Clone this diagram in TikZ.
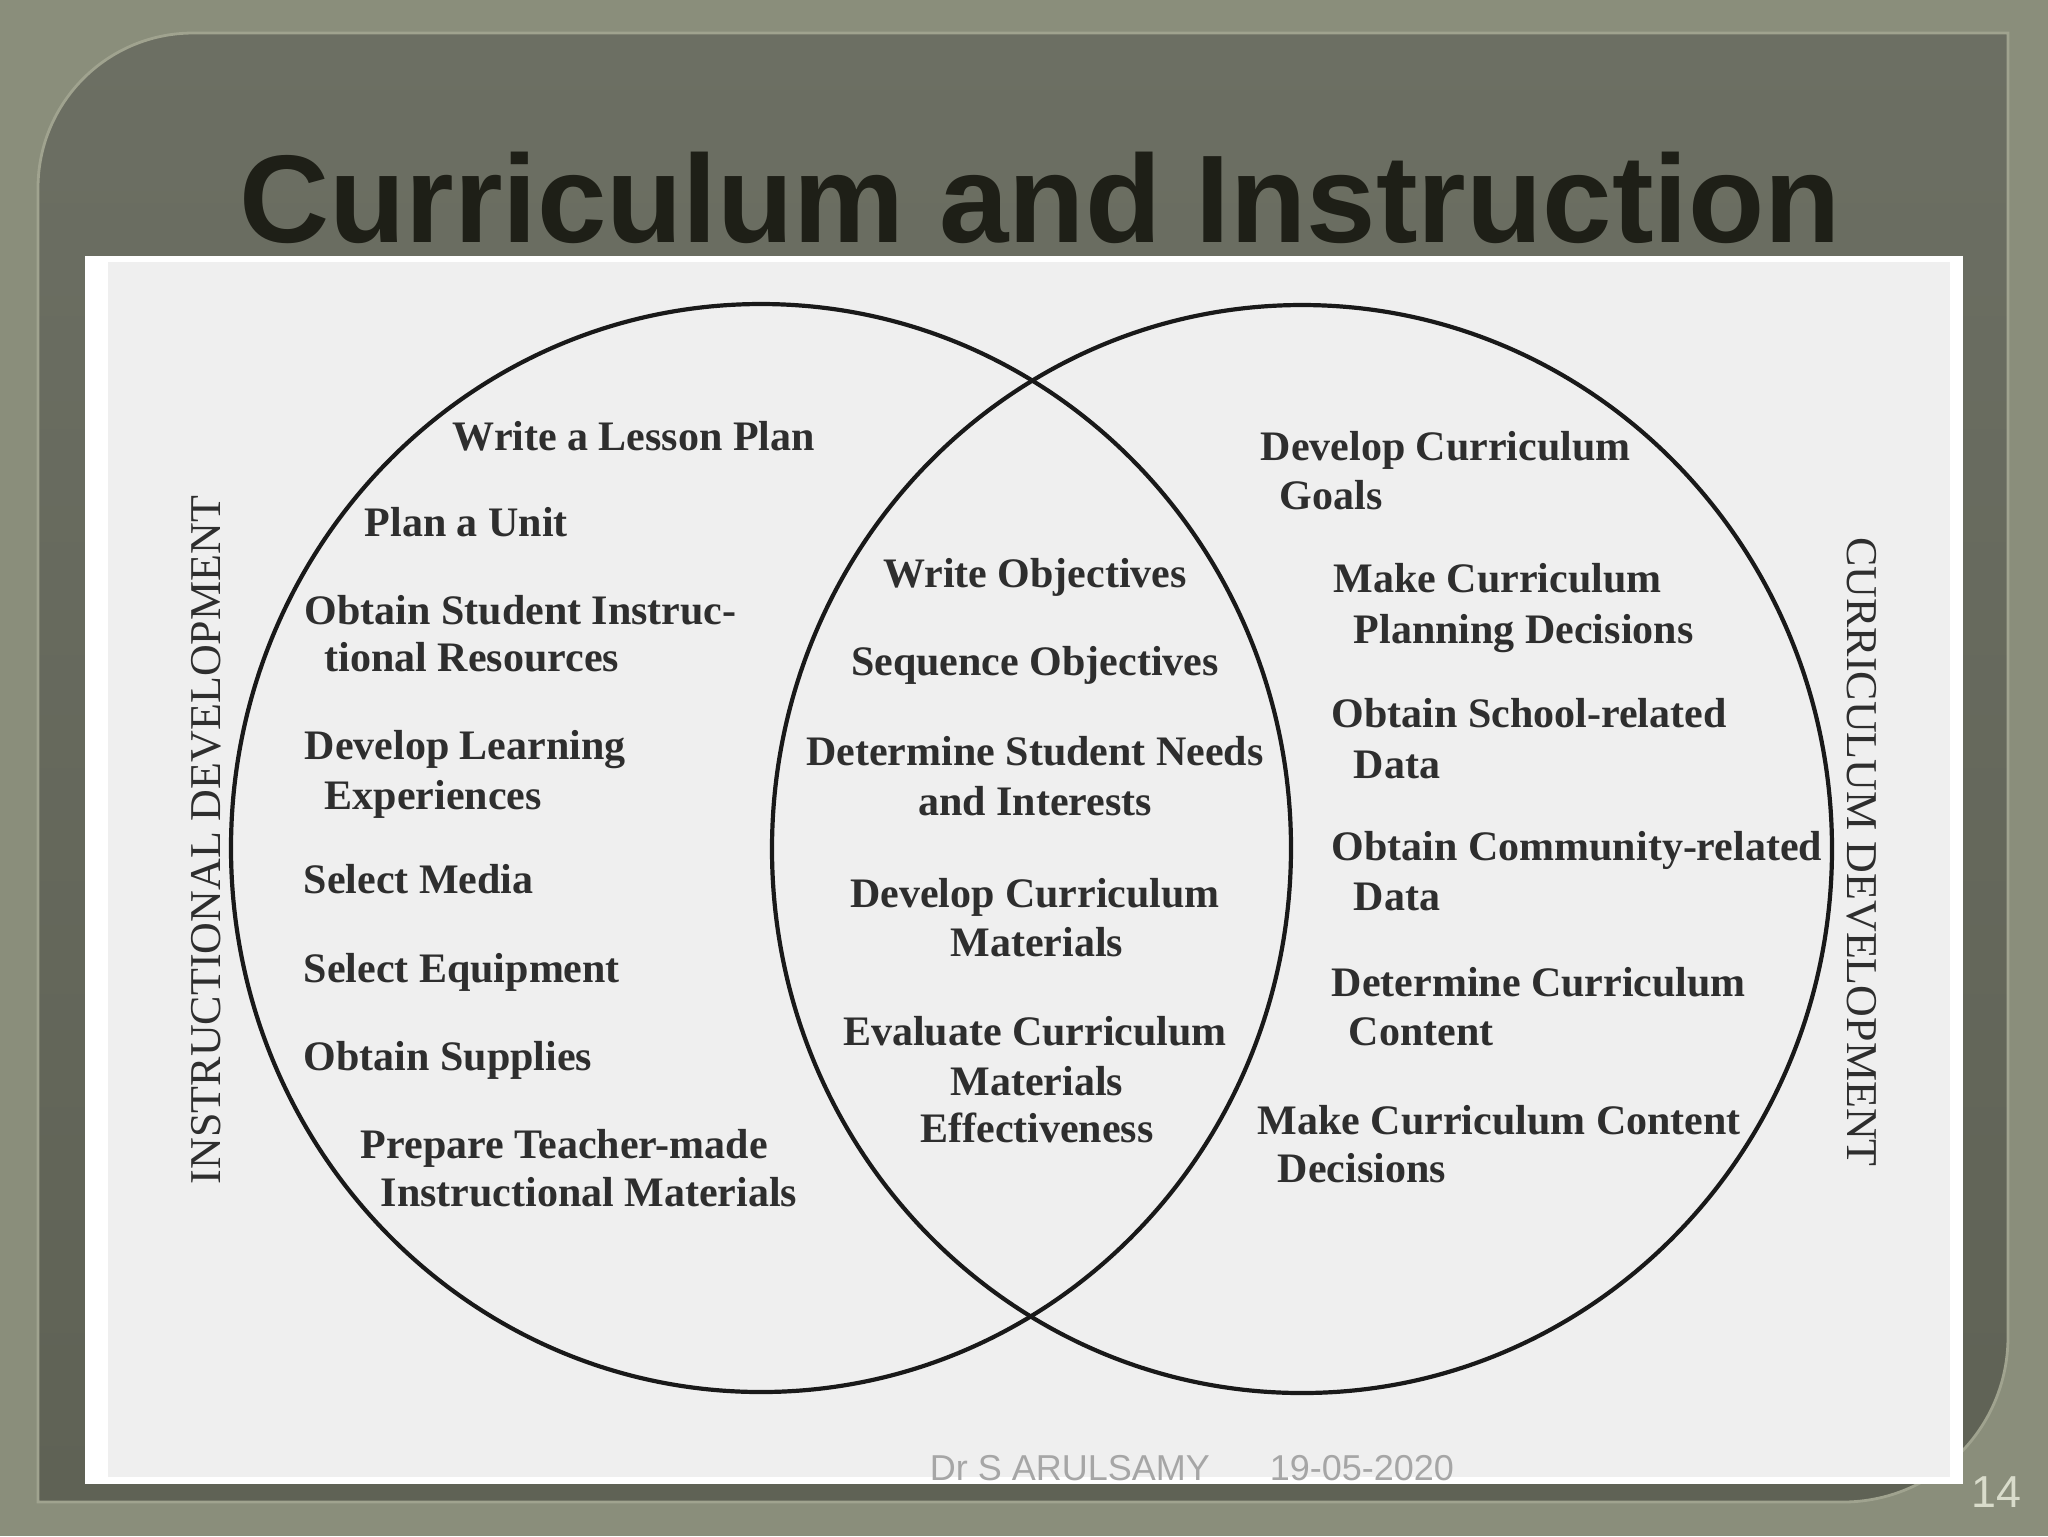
\documentclass[tikz,border=0pt]{standalone}
\usepackage{fontspec}
\setmainfont{Liberation Serif}
\newfontfamily\titlefont{Liberation Sans}
\newfontfamily\itmfont{Liberation Serif}
\usetikzlibrary{shapes.geometric}
\definecolor{outerbg}{HTML}{8A8E7B}
\definecolor{paneltop}{HTML}{6C6F63}
\definecolor{panelbot}{HTML}{5F6255}
\definecolor{panelrim}{HTML}{A0A38F}
\definecolor{paper}{HTML}{EFEFEF}
\definecolor{titlec}{HTML}{1E1F17}
\definecolor{txtc}{HTML}{2E2E2E}
\definecolor{footc}{HTML}{A6A6A6}
\definecolor{numc}{HTML}{D9DCCB}
\tikzset{
  itm/.style={font=\itmfont\bfseries\fontsize{10.5}{12}\selectfont, text=txtc, anchor=base west, inner sep=0pt},
  ctr/.style={itm, anchor=base},
  side/.style={font=\itmfont\fontsize{11}{12}\selectfont, text=txtc, inner sep=0pt},
  venn/.style={draw=black!90, line width=1.05pt, ellipse, inner sep=0pt, minimum width=265pt, minimum height=272pt},
}
\begin{document}
\begin{tikzpicture}[x=0.25pt, y=-0.25pt]
\useasboundingbox (0,0) rectangle (2048,1536);
% outer background
\fill[outerbg] (0,0) rectangle (2048,1536);
% dark panel
\path[top color=paneltop, bottom color=panelbot, draw=panelrim, line width=0.7pt]
  (38,188) .. controls (38,102.4) and (107.4,33) .. (193,33)
  -- (2008,33) -- (2008,1337)
  .. controls (2008,1428.1) and (1934.1,1502) .. (1843,1502)
  -- (38,1502) -- cycle;
% title
\node[font=\titlefont\bfseries\fontsize{31.2}{34}\selectfont, text=titlec, anchor=base, inner sep=0pt] (title) at (1040,242) {Curriculum and Instruction};
% paper
\fill[white] (85,256) rectangle (1963,1484);
\fill[paper] (108,262) rectangle (1950,1477);
% circles
\node[venn] (L) at (761,848) {};
\node[venn] (R) at (1302,849) {};
% side labels
\node[side, rotate=90] (instr) at (206,840) {INSTRUCTIONAL DEVELOPMENT};
\node[side, rotate=-90] (curr) at (1862,852) {CURRICULUM DEVELOPMENT};
% left items
\node[itm] (l1) at (452,450) {Write a Lesson Plan};
\node[itm] (l2) at (364,536) {Plan a Unit};
\node[itm] (l3a) at (304,624) {Obtain Student Instruc-};
\node[itm] (l3b) at (324,671) {tional Resources};
\node[itm] (l4a) at (304,759) {Develop Learning};
\node[itm] (l4b) at (324,809) {Experiences};
\node[itm] (l5) at (303,893) {Select Media};
\node[itm] (l6) at (303,982) {Select Equipment};
\node[itm] (l7) at (303,1070) {Obtain Supplies};
\node[itm] (l8a) at (360,1158) {Prepare Teacher-made};
\node[itm] (l8b) at (380,1206) {Instructional Materials};
% center items
\node[ctr] (c1) at (1035,587) {Write Objectives};
\node[ctr] (c2) at (1035,675) {Sequence Objectives};
\node[ctr] (c3a) at (1035,765) {Determine Student Needs};
\node[ctr] (c3b) at (1035,815) {and Interests};
\node[ctr] (c4a) at (1035,907) {Develop Curriculum};
\node[ctr] (c4b) at (1037,956) {Materials};
\node[ctr] (c5a) at (1035,1045) {Evaluate Curriculum};
\node[ctr] (c5b) at (1037,1095) {Materials};
\node[ctr] (c5c) at (1037,1142) {Effectiveness};
% right items
\node[itm] (r1a) at (1260,460) {Develop Curriculum};
\node[itm] (r1b) at (1279,509) {Goals};
\node[itm] (r2a) at (1333,592) {Make Curriculum};
\node[itm] (r2b) at (1353,643) {Planning Decisions};
\node[itm] (r3a) at (1331,727) {Obtain School-related};
\node[itm] (r3b) at (1353,778) {Data};
\node[itm] (r4a) at (1331,860) {Obtain Community-related};
\node[itm] (r4b) at (1353,910) {Data};
\node[itm] (r5a) at (1331,996) {Determine Curriculum};
\node[itm] (r5b) at (1348,1045) {Content};
\node[itm] (r6a) at (1257,1134) {Make Curriculum Content};
\node[itm] (r6b) at (1277,1182) {Decisions};
% footer
\node[font=\titlefont\fontsize{9}{10}\selectfont, text=footc, anchor=base west, inner sep=0pt] (author) at (929,1480) {Dr S ARULSAMY};
\node[font=\titlefont\fontsize{9}{10}\selectfont, text=footc, anchor=base west, inner sep=0pt] (date) at (1269,1480) {19-05-2020};
\node[font=\titlefont\fontsize{11.2}{12}\selectfont, text=numc, anchor=base west, inner sep=0pt] (num) at (1971,1507) {14};
\end{tikzpicture}
\end{document}
